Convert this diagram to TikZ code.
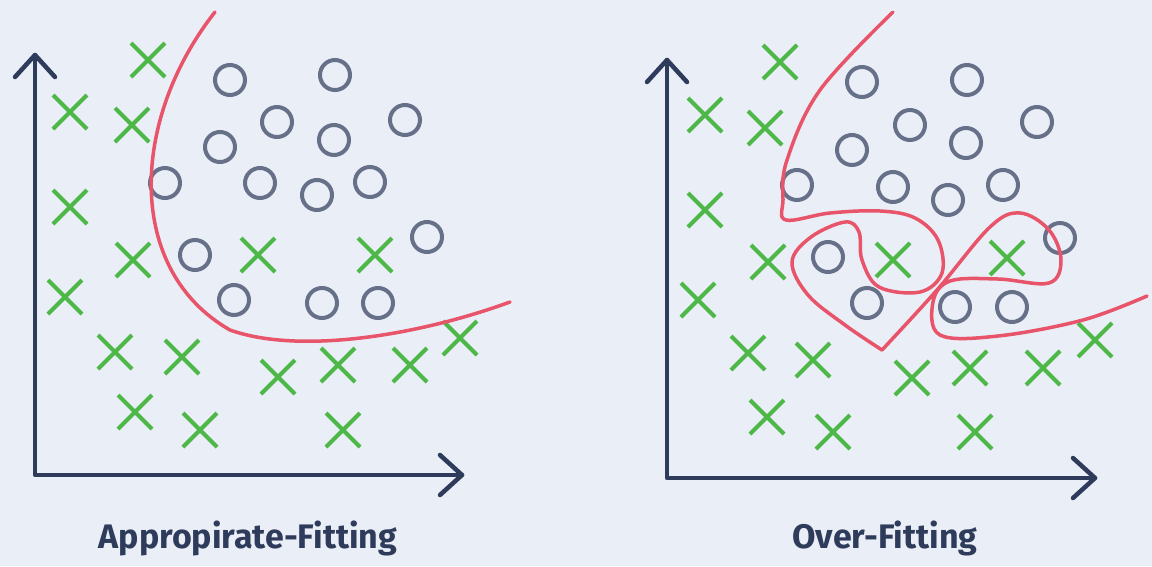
\documentclass[tikz,border=0pt]{standalone}
\usepackage{fontspec}
\setmainfont{Fira Sans}
\usetikzlibrary{calc}
\begin{document}
\begin{tikzpicture}[x=1pt,y=-1pt,
  ax/.style={line width=4.5pt,draw=navy,line cap=round,line join=round},
  circ/.style={circle,draw=cgray,line width=4pt,minimum size=30pt,inner sep=0pt},
  fit/.style={draw=fred,line width=3.5pt,line cap=round,line join=round},
  xm/.style={cgreen,line width=4pt},
  lbl/.style={text=navy,font=\bfseries\fontsize{34}{40}\selectfont}]
\definecolor{bg}{HTML}{EAEEF6}
\definecolor{navy}{HTML}{2E3B5B}
\definecolor{cgray}{HTML}{667089}
\definecolor{cgreen}{HTML}{4DB848}
\definecolor{fred}{HTML}{E8546A}
\fill[bg] (0,0) rectangle (1152,566);
\useasboundingbox (0,0) rectangle (1152,566);
% left axes
\coordinate (lo) at (35,475); \coordinate (ly) at (35,55); \coordinate (lx) at (462,475);
\draw[ax] (ly) -- (lo) -- (lx);
\draw[ax] ($(ly)+(-20,22)$) -- (ly) -- ($(ly)+(20,22)$);
\draw[ax] ($(lx)+(-22,-20)$) -- (lx) -- ($(lx)+(-22,20)$);
% right axes
\coordinate (ro) at (667,478); \coordinate (ry) at (667,60); \coordinate (rx) at (1095,478);
\draw[ax] (ry) -- (ro) -- (rx);
\draw[ax] ($(ry)+(-20,22)$) -- (ry) -- ($(ry)+(20,22)$);
\draw[ax] ($(rx)+(-22,-20)$) -- (rx) -- ($(rx)+(-22,20)$);
% circles
\foreach \a/\b [count=\i] in {230/80,335/75,277/122,405/120,220/147,334/140,165/183,260/183,317/195,370/182,195/255,427/237,234/300,322/303,378/303}
  \node[circ] (lc\i) at (\a,\b) {};
\foreach \a/\b [count=\i] in {862/82,967/80,910/125,1037/122,852/150,966/143,797/185,893/187,948/200,1003/185,828/257,1060/238,867/303,955/307,1012/307}
  \node[circ] (rc\i) at (\a,\b) {};
% crosses
\foreach \a/\b in {148/60,70/112,132/125,70/207,133/260,258/255,375/255,65/297,115/352,182/357,278/377,338/365,410/365,460/338,135/412,200/430,343/430,
  780/62,705/115,765/128,705/210,768/262,893/260,1007/258,698/300,748/353,813/360,912/378,970/368,1043/368,1095/340,767/417,833/432,975/432}
  \draw[xm] (\a-17,\b-17) -- (\a+17,\b+17) (\a-17,\b+17) -- (\a+17,\b-17);
% fitting curves
\draw[fit] (215,12) .. controls (130,120) and (125,270) .. (230,330) .. controls (300,355) and (420,335) .. (510,302);
\draw[fit] plot[smooth,tension=0.6] coordinates {(893,12) (820,90) (787,160) (783,200) (786,220) (830,213) (880,211) (915,218) (938,240) (942,273) (920,292) (879,287) (862,260) (859,232) (845,222) (811,237) (792,262) (808,295) (845,325) (882,350)};
\draw[fit] plot[smooth,tension=0.6] coordinates {(882,350) (937,290) (990,227) (1020,213) (1049,230) (1061,260) (1049,283) (998,279) (950,281) (933,302) (940,335) (998,336) (1083,320) (1147,296)};
\node[lbl] (t1) at (248,538) {Appropirate-Fitting};
\node[lbl] (t2) at (885,538) {Over-Fitting};
\end{tikzpicture}
\end{document}
